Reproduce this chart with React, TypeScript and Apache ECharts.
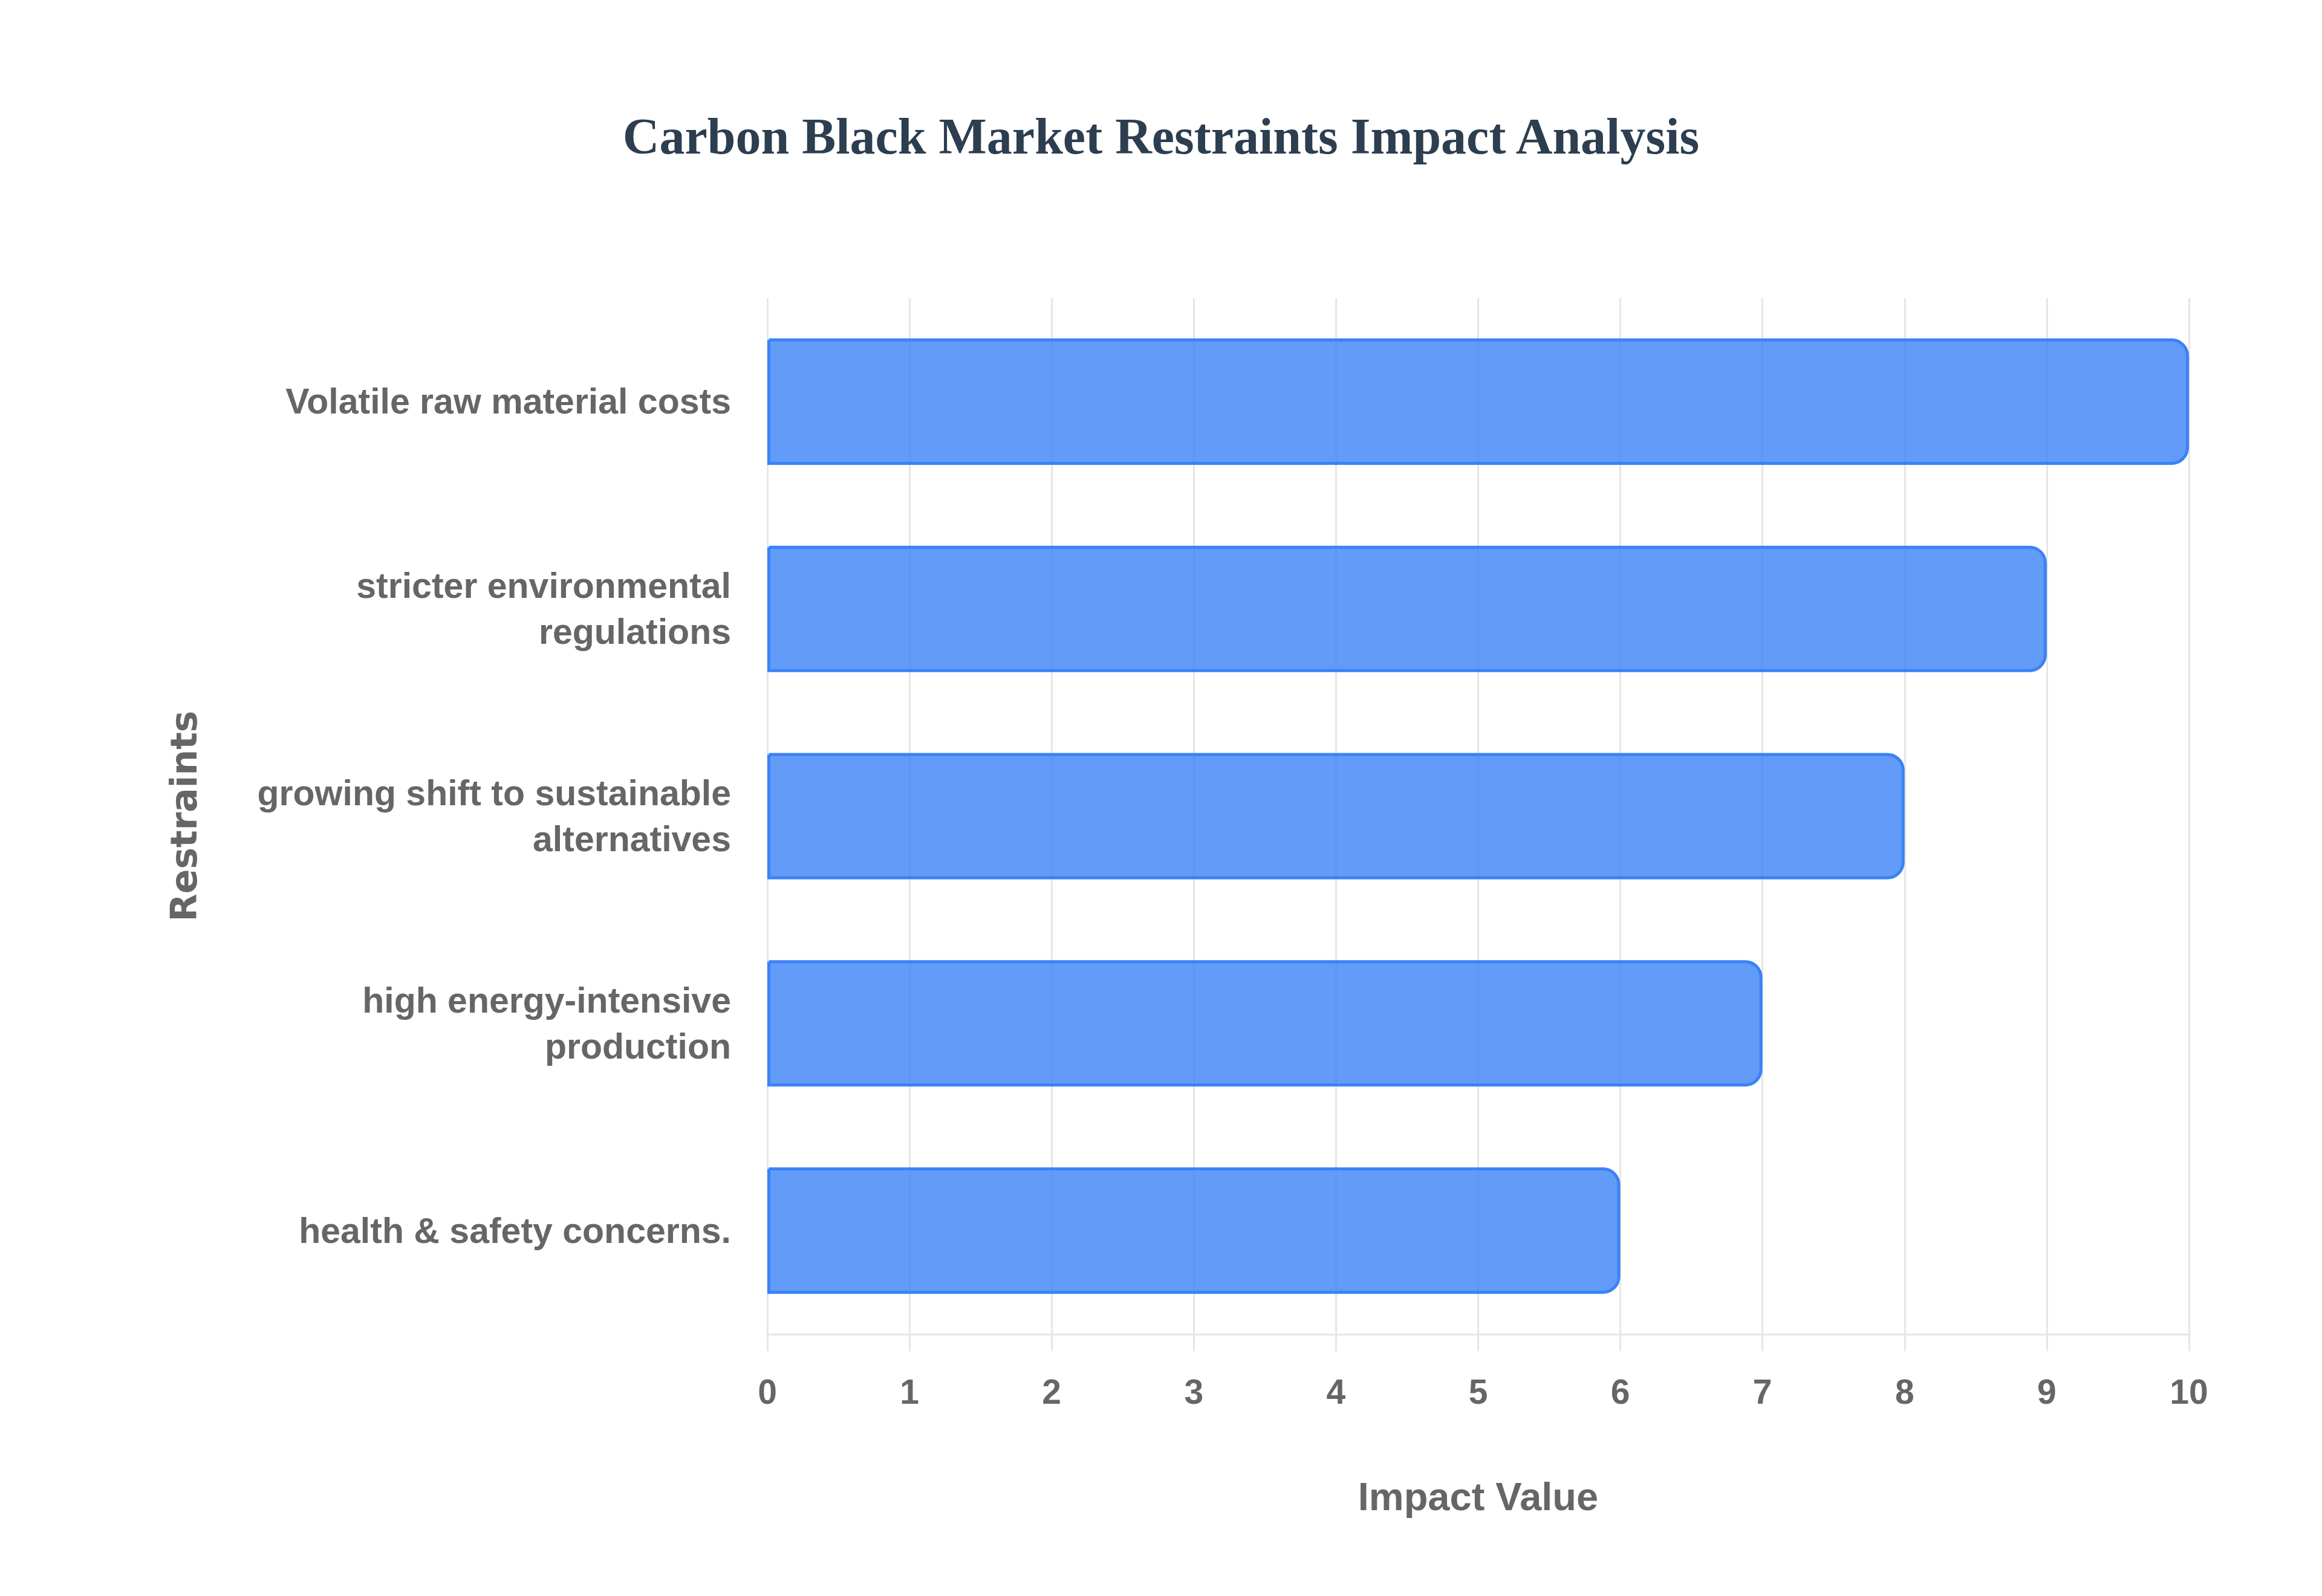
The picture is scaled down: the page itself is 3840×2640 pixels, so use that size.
import React, { useEffect, useRef } from "react";
import * as echarts from "echarts";

const titleText = "Carbon Black Market Restraints Impact Analysis";
const categories = [
  "Volatile raw material costs",
  "stricter environmental\nregulations",
  "growing shift to sustainable\nalternatives",
  "high energy-intensive\nproduction",
  "health & safety concerns.",
];
const impactValues = [10, 9, 8, 7, 6];
const xAxisTitle = "Impact Value";
const yAxisTitle = "Restraints";

export default function App() {
  const ref = useRef<HTMLDivElement>(null);
  useEffect(() => {
    if (!ref.current) return;
    const chart = echarts.init(ref.current, null, { renderer: "svg" });
    const grid = "#e6e6e6";
    chart.setOption({
      animation: false,
      backgroundColor: "#ffffff",
      title: {
        text: titleText,
        left: "center",
        top: 178,
        textStyle: {
          fontFamily: "Liberation Serif",
          fontWeight: "bold",
          fontSize: 84,
          color: "#2c3e50",
        },
      },
      grid: { left: 1269, right: 220, top: 493, bottom: 433, containLabel: false },
      xAxis: {
        type: "value",
        min: 0,
        max: 10,
        interval: 1,
        name: xAxisTitle,
        nameLocation: "middle",
        nameGap: 236,
        nameTextStyle: {
          fontFamily: "Liberation Sans",
          fontWeight: "bold",
          fontSize: 65,
          color: "#666666",
        },
        axisLine: { show: true, lineStyle: { color: grid, width: 3 } },
        axisTick: { show: true, length: 28, lineStyle: { color: grid, width: 3 } },
        splitLine: { show: true, lineStyle: { color: grid, width: 3 } },
        axisLabel: {
          margin: 66,
          fontFamily: "Liberation Sans",
          fontWeight: "bold",
          fontSize: 57,
          color: "#666666",
        },
      },
      yAxis: {
        type: "category",
        inverse: true,
        data: categories,
        name: yAxisTitle,
        nameLocation: "middle",
        nameRotate: 90,
        nameGap: 935,
        nameTextStyle: {
          fontFamily: "DejaVu Sans",
          fontWeight: "bold",
          fontSize: 60,
          color: "#666666",
        },
        axisLine: { show: false },
        axisTick: { show: false },
        splitLine: { show: false },
        axisLabel: {
          margin: 60,
          fontFamily: "Liberation Sans",
          fontWeight: "bold",
          fontSize: 59,
          lineHeight: 76,
          color: "#666666",
          align: "right",
        },
      },
      series: [
        {
          type: "bar",
          data: impactValues,
          barWidth: "61%",
          itemStyle: {
            color: "rgba(59,130,246,0.8)",
            borderColor: "#3b82f6",
            borderWidth: 5,
            borderRadius: [0, 26, 26, 0],
          },
        },
      ],
    });
    return () => chart.dispose();
  }, []);
  return (
    <div
      ref={ref}
      style={{ position: "absolute", left: 0, top: 0, width: 3840, height: 2640 }}
    />
  );
}
